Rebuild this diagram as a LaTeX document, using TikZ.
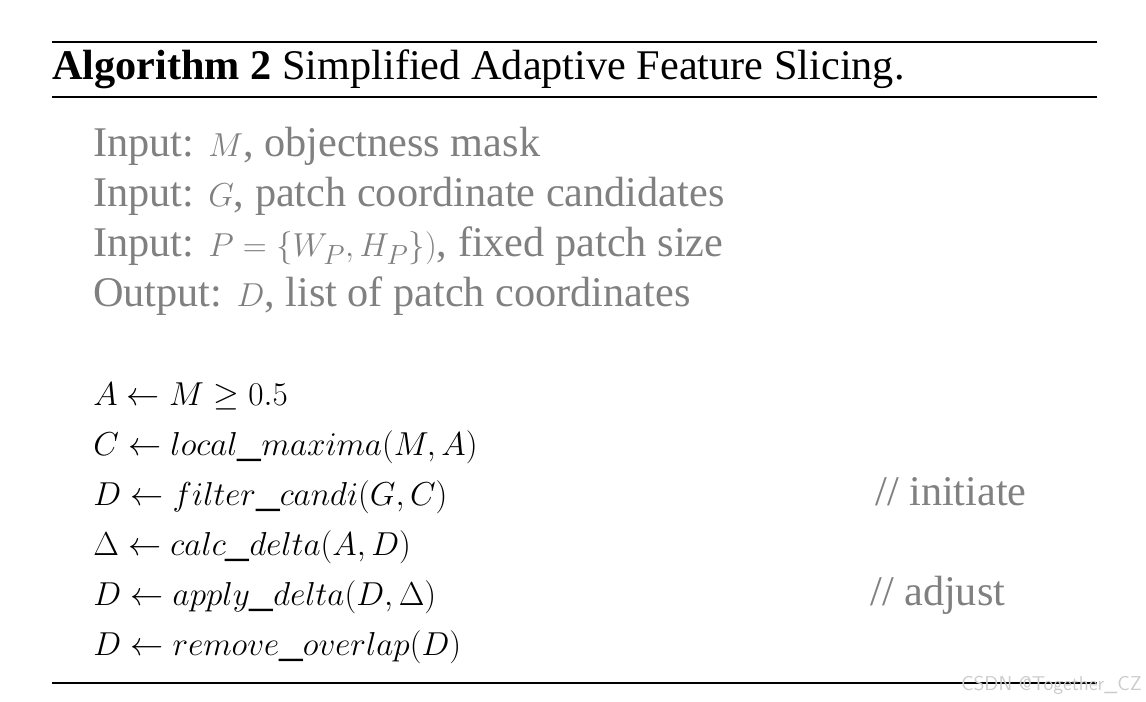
\documentclass[tikz,border=0pt]{standalone}
\usepackage{amsmath}
\usepackage{fontspec}
\setmainfont{Liberation Serif}
\begin{document}
\begin{tikzpicture}[x=0.75pt,y=-0.75pt,
  txt/.style={anchor=base west,inner sep=0pt,font=\fontsize{31.7}{33}\selectfont},
  mth/.style={anchor=base west,inner sep=0pt,font=\fontsize{35.5}{37}\selectfont},
  inp/.style={txt,text=black!50},
  rule/.style={line width=#1}]
\useasboundingbox (0,0) rectangle (1146,702);
\draw[rule=2.2pt] (52,42) -- (1097,42);
\draw[rule=0.9pt] (52,97) -- (1097,97);
\draw[rule=0.9pt] (52,683) -- (1097,683);
\node[txt] (title) at (52,80) {\textbf{Algorithm 2} Simplified Adaptive Feature Slicing.};
\node[inp] (i1) at (93,157) {Input: $M$, objectness mask};
\node[inp] (i2) at (93,207) {Input: $G$, patch coordinate candidates};
\node[inp] (i3) at (93,257) {Input: $P=\{W_P,H_P\})$, fixed patch size};
\node[inp] (o1) at (93,307) {Output: $D$, list of patch coordinates};
\node[mth] (l1) at (93,405) {$A\leftarrow M\geq 0.5$};
\node[mth] (l2) at (93,455) {$C\leftarrow local\_maxima(M,A)$};
\node[mth] (l3) at (93,505) {$D\leftarrow filter\_candi(G,C)$};
\node[mth] (l4) at (93,555) {$\Delta\leftarrow calc\_delta(A,D)$};
\node[mth] (l5) at (93,605) {$D\leftarrow apply\_delta(D,\Delta)$};
\node[mth] (l6) at (93,655) {$D\leftarrow remove\_overlap(D)$};
\node[inp] (c1) at (875,505) {// initiate};
\node[inp] (c2) at (870,605) {// adjust};
\node[anchor=base east,inner sep=0pt,text=black!20,font=\fontsize{15}{16}\selectfont\sffamily] (wm) at (1142,690) {CSDN @Together\_CZ};
\end{tikzpicture}
\end{document}
